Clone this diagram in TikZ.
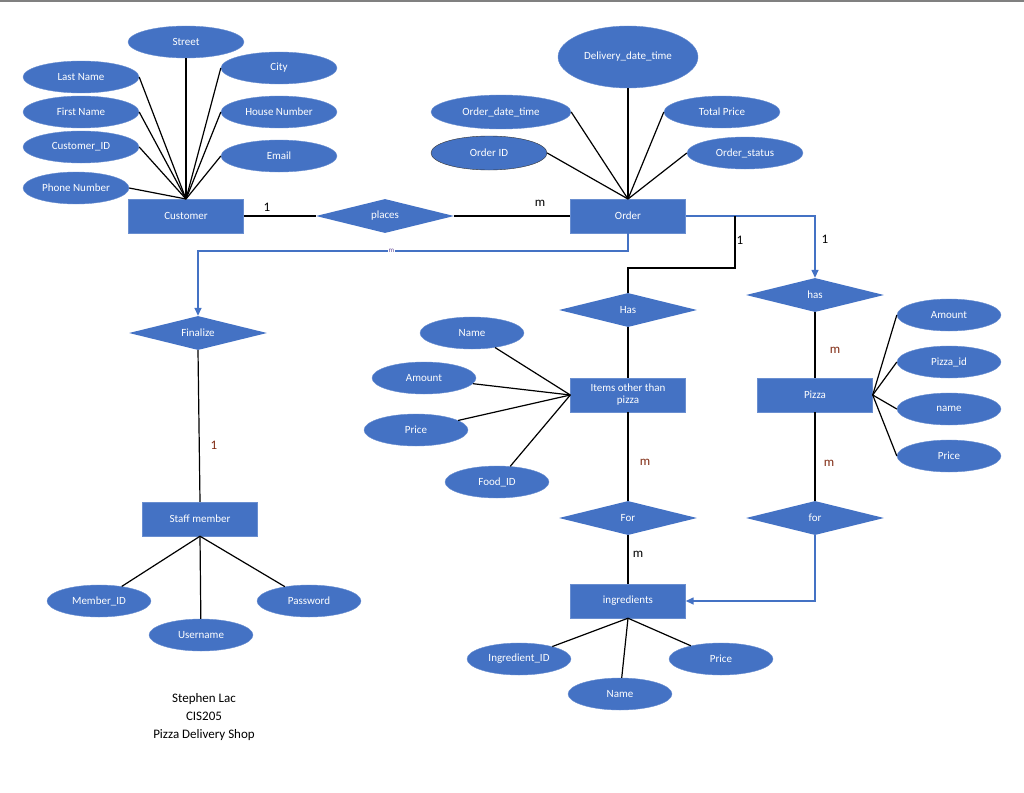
\documentclass[tikz,border=0pt]{standalone}
\usepackage{fontspec}
\setmainfont{Carlito}
\usetikzlibrary{shapes.geometric,arrows.meta}
\definecolor{eb}{HTML}{4472C4}
\definecolor{lab}{HTML}{7F2A12}
\tikzset{
 ent/.style={rectangle,fill=eb,draw=eb!80!white,minimum width=115pt,minimum height=34pt,text=white,font=\fontsize{11}{12}\selectfont,align=center,inner sep=1pt},
 att/.style={ellipse,fill=eb,draw=eb!80!white,minimum width=#1,minimum height=32pt,text=white,font=\fontsize{11}{12}\selectfont,inner sep=0pt},
 att/.default=116pt,
 rel/.style={diamond,fill=eb,aspect=4,minimum width=138pt,minimum height=34pt,inner sep=0pt,text=white,font=\fontsize{11}{12}\selectfont},
 ln/.style={black,line width=1.2pt},
 bl/.style={eb,line width=1.5pt},
 ar/.style={bl,-{Triangle[length=8pt,width=7pt]}},
 card/.style={font=\fontsize{13}{14}\selectfont},
}
\begin{document}
\begin{tikzpicture}[x=1pt,y=-1pt]
\useasboundingbox (0,0) rectangle (1024,792);
\draw[gray,line width=2pt] (0,1) -- (1024,1);
% customer
\node[ent] (cus) at (186,216) {Customer};
\coordinate (ct) at (186,199);
\node[att] (street) at (186,42) {Street};
\node[att] (last) at (81,77) {Last Name};
\node[att] (first) at (81,112) {First Name};
\node[att] (cid) at (81,147) {Customer\_ID};
\node[att=106pt] (phone) at (76,188) {Phone Number};
\node[att] (city) at (279,68) {City};
\node[att] (house) at (279,112) {House Number};
\node[att] (email) at (279,156) {Email};
\draw[ln] (street) -- (ct);
\foreach \a in {last,first,cid,phone} \draw[ln] (\a.east) -- (ct);
\foreach \a in {city,house,email} \draw[ln] (\a.west) -- (ct);
% order
\node[rel] (places) at (385,216) {places};
\node[ent] (ord) at (628,216) {Order};
\coordinate (ot) at (628,199);
\draw[ln] (cus) -- (places) -- (ord);
\node[card] at (267,207) {1};
\node[card] at (540,203) {m};
\node[att=140pt,minimum height=62pt] (ddt) at (628,57) {Delivery\_date\_time};
\node[att=140pt,minimum height=34pt] (odt) at (501,112) {Order\_date\_time};
\node[att,minimum height=34pt,draw=black!80] (oid) at (489,153) {Order ID};
\node[att] (tp) at (722,112) {Total Price};
\node[att] (os) at (745,153) {Order\_status};
\draw[ln] (ddt) -- (ot);
\foreach \a in {odt,oid} \draw[ln] (\a.east) -- (ot);
\foreach \a in {tp,os} \draw[ln] (\a.west) -- (ot);
% finalize / staff
\node[rel] (fin) at (198,333) {Finalize};
\draw[ar] (ord.south) -- (628,251) -- node[pos=0.55,text=eb!70!purple,font=\fontsize{7}{7}\selectfont,fill=white,inner sep=0.5pt]{m} (198,251) -- (fin.north);
\node[ent] (staff) at (200,519) {Staff member};
\draw[ln] (fin.south) -- (staff.north);
\node[card,text=lab] at (214,445) {1};
\node[att=104pt] (mid) at (99,601) {Member\_ID};
\node[att=104pt] (user) at (201,635) {Username};
\node[att=104pt] (pw) at (309,601) {Password};
\foreach \a in {mid,user,pw} \draw[ln] (staff.south) -- (\a);
% Has / has
\node[rel] (Has) at (628,310) {Has};
\node[rel] (has) at (815,295) {has};
\coordinate (oj) at (735,216);
\draw[ar] (ord.east) -- (815,216) -- (has.north);
\node[card] at (825,239) {1};
\draw[ln] (oj) -- (735,268) -- (628,268) -- (Has.north);
\node[card] at (740,240) {1};
\node[ent] (items) at (628,395) {Items other than\\pizza};
\node[ent] (pizza) at (815,395) {Pizza};
\draw[ln] (Has) -- (items);
\draw[ln] (has) -- (pizza);
\node[card,text=lab] at (835,350) {m};
\node[att=104pt] (iname) at (472,333) {Name};
\node[att=104pt] (iam) at (424,378) {Amount};
\node[att=104pt] (ipr) at (416,430) {Price};
\node[att=104pt] (ifid) at (497,482) {Food\_ID};
\foreach \a in {iname,iam,ipr,ifid} \draw[ln] (items.west) -- (\a);
\node[att=104pt] (pam) at (949,315) {Amount};
\node[att=104pt] (pid) at (949,362) {Pizza\_id};
\node[att=104pt] (pnm) at (949,409) {name};
\node[att=104pt] (ppr) at (949,456) {Price};
\foreach \a in {pam,pid,pnm,ppr} \draw[ln] (pizza.east) -- (\a.west);
% For / for
\node[rel] (For) at (628,518) {For};
\node[rel] (for) at (815,518) {for};
\node[ent] (ing) at (628,601) {ingredients};
\draw[ln] (items) -- (For);
\node[card,text=lab] at (645,462) {m};
\draw[ln] (For) -- (ing);
\node[card] at (638,554) {m};
\draw[ln] (pizza) -- (for);
\node[card,text=lab] at (829,463) {m};
\draw[ar] (for.south) -- (815,601) -- (ing.east);
\node[att=104pt] (iid) at (519,659) {Ingredient\_ID};
\node[att=104pt] (inm) at (620,694) {Name};
\node[att=104pt] (ip) at (721,659) {Price};
\foreach \a in {iid,inm,ip} \draw[ln] (ing.south) -- (\a);
\node[align=center,font=\fontsize{13}{18}\selectfont] (sig) at (204,717) {Stephen Lac\\CIS205\\Pizza Delivery Shop};
\end{tikzpicture}
\end{document}
